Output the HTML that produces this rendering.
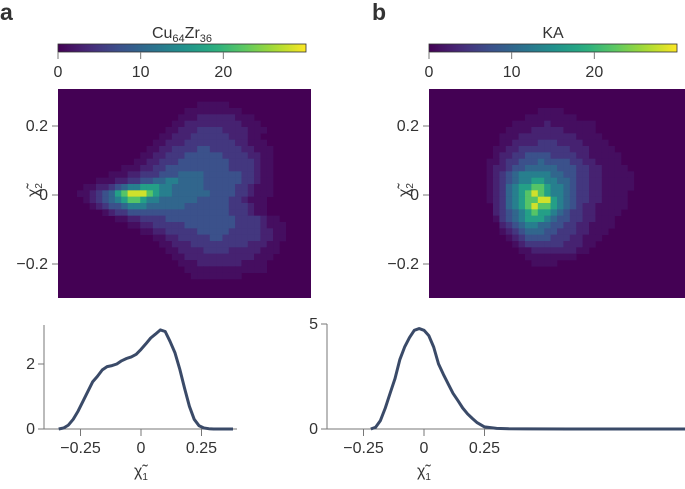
<!DOCTYPE html>
<html><head><meta charset="utf-8"><style>
body{margin:0;background:#fff;width:685px;height:484px;overflow:hidden}
svg text{font-family:"Liberation Sans",sans-serif;fill:#333}
</style></head><body>
<svg id="fig" width="685" height="484"></svg>
<script>
// ---------- data ----------
const cbTicks=[0,10,20];
const hmYTicks=[0.2,0,-0.2];
const lineXTicks=[-0.25,0,0.25];
const aYTicks=[0,2];
const bYTicks=[0,5];
// heatmap level -> count lookup
const levelCounts=[0,1.2,3,5,7.5,10,13,17,22,28];
const heatA=[
"","","0000000000000000000000111110","00000000000000000000111111111",
"0000000000000000000111222222111","000000000000000000112222222221110",
"000000000000000001122233332222111","000000000000000011222333333222110",
"000000000000000112223333333322111","0000000000000011223333443333322111",
"00000000000001122333444444333322110","000000000000112233344444444333321100",
"00000000001112233444444444433332110","000000001112233344455554444443321100",
"00000011122334455665555444444332110","0000112234566777665555544444332111",
"0001123457899987665555554444332111","0000123456788766555555444443321110",
"0000012344566655555544444443332110","0000000123344444444444444443332110",
"00000000011223333444444444443333211","00000000000112233333444444443333211100",
"0000000000000112233333444443333322110","0000000000000001122333334433333322110",
"00000000000000001122233333333322211","000000000000000001122223333222221110",
"0000000000000000001122222222222111","00000000000000000001112222222111100",
"000000000000000000001111111111111","00000000000000000000011111111","","",""];
const heatB=[
"","","","000000000000000001111","0000000000000001111111100","00000000000001111121111111",
"000000000000111122222111110","0000000000011122222222211110","000000000001122223332222111100",
"00000000001122333333332221111","000000000012233444433332211111","0000000001123344454444332211110",
"00000000012234455555444332211110","00000000012345666665544332211111","00000000012345667766554332211111",
"00000000012356778876654332211111","0000000001235678987665433221111","0000000001235678899765433221111",
"00000000002356789887654322111110","000000000023456787765433221111","0000000000134567776544332211100",
"00000000000234566554433221111","0000000000012345554433322111","000000000000123444433322111",
"0000000000000123333332221100","00000000000000112222222110","00000000000000011111111","00000000000000001111","","","","",""];
const curveAx=[-0.34,-0.32,-0.30,-0.28,-0.26,-0.24,-0.22,-0.20,-0.18,-0.16,-0.14,-0.12,-0.10,-0.08,-0.06,-0.04,-0.02,0,0.02,0.04,0.06,0.08,0.10,0.12,0.14,0.16,0.18,0.20,0.22,0.24,0.26,0.28,0.30,0.38];
const curveAy=[0,0.03,0.12,0.3,0.55,0.85,1.15,1.45,1.62,1.82,1.92,1.95,2.0,2.1,2.17,2.22,2.3,2.45,2.62,2.8,2.92,3.05,3.0,2.7,2.35,1.85,1.25,0.7,0.3,0.1,0.03,0.01,0,0];
const curveBx=[-0.22,-0.20,-0.18,-0.16,-0.14,-0.12,-0.10,-0.08,-0.06,-0.04,-0.02,0,0.02,0.04,0.06,0.08,0.10,0.12,0.14,0.16,0.18,0.20,0.22,0.25,0.30,0.35,0.42,0.6,1.08];
const curveBy=[0,0.08,0.4,1.0,1.7,2.4,3.3,3.9,4.35,4.7,4.78,4.7,4.45,3.9,3.1,2.6,2.15,1.7,1.35,1.0,0.72,0.5,0.3,0.1,0.03,0.01,0.005,0,0];

// ---------- helpers ----------
const NS="http://www.w3.org/2000/svg";const svg=document.getElementById('fig');
function el(t,a,p){const e=document.createElementNS(NS,t);for(const k in a)e.setAttribute(k,a[k]);(p||svg).appendChild(e);return e;}
const VS=[[0,[68,1,84]],[.13,[71,44,122]],[.25,[59,81,139]],[.38,[44,113,142]],[.5,[33,144,141]],[.63,[39,173,129]],[.75,[92,200,99]],[.88,[170,220,50]],[1,[253,231,37]]];
function vir(t){t=Math.max(0,Math.min(1,t));for(let i=1;i<VS.length;i++){if(t<=VS[i][0]){const a=VS[i-1],b=VS[i],f=(t-a[0])/(b[0]-a[0]);return 'rgb('+a[1].map((v,k)=>Math.round(v+(b[1][k]-v)*f)).join(',')+')';}}}
const VMAX=30;
const FS=15;

function panel(o){
  const g=el('g',{});
  
  
  const lab=el('text',{x:o.labX,y:20,'font-size':23,'font-weight':'bold',fill:'#111'},g);lab.textContent=o.id;
  
  const cbx=v=>o.cbx0+v/VMAX*(o.cbx1-o.cbx0);
  const defs=el('defs',{},g);const lg=el('linearGradient',{id:'grad'+o.id},defs);
  for(let i=0;i<=20;i++)el('stop',{offset:(i*5)+'%','stop-color':vir(i/20)},lg);
  const cb=el('rect',{x:o.cbx0,y:44,width:o.cbx1-o.cbx0,height:8,fill:'url(#grad'+o.id+')',stroke:'#333','stroke-width':0.8},g);
  
  const tt=el('text',{x:(o.cbx0+o.cbx1)/2,y:38,'font-size':16,'text-anchor':'middle'},g);tt.innerHTML=o.title;
  
  cbTicks.forEach(v=>{el('line',{x1:cbx(v),x2:cbx(v),y1:52,y2:59,stroke:'#777'},g);
    const t=el('text',{x:cbx(v),y:77,'font-size':FS+1,'text-anchor':'middle',fill:'#555'},g);t.textContent=v;
    });
  const hx0=o.hx0,hx1=o.hx1,hy0=89,hy1=298;
  const hm=el('g',{},g);
  el('rect',{x:hx0,y:hy0,width:hx1-hx0,height:hy1-hy0,fill:vir(0)},hm);
  const nc=40,nr=33,cw=(hx1-hx0)/nc,ch=(hy1-hy0)/nr;
  o.heat.forEach((row,r)=>{for(let c=0;c<row.length;c++){const v=levelCounts[+row[c]];if(v>0){
    const cell=el('rect',{x:hx0+c*cw,y:hy0+r*ch,width:cw+0.3,height:ch+0.3,fill:vir(v/VMAX)},hm);
    }}});
  const hy=v=>195-v/0.1*34.5;
  hmYTicks.forEach(v=>{el('line',{x1:hx0-6,x2:hx0,y1:hy(v),y2:hy(v),stroke:'#777'},g);
    const t=el('text',{x:hx0-10,y:hy(v)+5,'font-size':FS+1,'text-anchor':'end',fill:'#555'},g);t.textContent=v===0?'0':(v<0?'−'+(-v).toFixed(1):v.toFixed(1));
    });
  const yl=el('text',{x:0,y:0,'font-size':16,'text-anchor':'middle',transform:'translate('+(o.hx0-20)+',190) rotate(-90)'},g);
  yl.innerHTML='χ̃<tspan font-size="10" dy="4">2</tspan>';
  
  const lx=v=>o.lx0+v/0.25*60.5, ly=v=>429-v*o.lyS;
  el('line',{x1:o.ax0,x2:o.ax1,y1:429,y2:429,stroke:'#777'},g);
  el('line',{x1:o.ax0,x2:o.ax0,y1:o.ayTop,y2:429,stroke:'#777'},g);
  lineXTicks.forEach(v=>{el('line',{x1:lx(v),x2:lx(v),y1:429,y2:436,stroke:'#777'},g);
    const t=el('text',{x:lx(v),y:453,'font-size':FS+1,'text-anchor':'middle',fill:'#555'},g);t.textContent=v===0?'0':(v<0?'−'+(-v):v);
    });
  o.yt.forEach(v=>{el('line',{x1:o.ax0-6,x2:o.ax0,y1:ly(v),y2:ly(v),stroke:'#777'},g);
    const t=el('text',{x:o.ax0-9,y:ly(v)+5,'font-size':FS+1,'text-anchor':'end',fill:'#555'},g);t.textContent=v;
    });
  const d=o.cx.map((x,i)=>(i?'L':'M')+lx(x).toFixed(1)+','+ly(o.cy[i]).toFixed(1)).join('');
  const p=el('path',{d:d,fill:'none',stroke:'#3a4a68','stroke-width':3,'stroke-linejoin':'round'},g);
  
  const xl=el('text',{x:o.lx0,y:476,'font-size':16,'text-anchor':'middle'},g);
  xl.innerHTML='χ̃<tspan font-size="10" dy="4">1</tspan>';
  
}
panel({id:'a',labX:0,title:'Cu<tspan font-size="11" dy="4">64</tspan><tspan dy="-4">Zr</tspan><tspan font-size="11" dy="4">36</tspan>',
  cbx0:58,cbx1:306,hx0:58,hx1:311,heat:heatA,lx0:141,lyS:32.5,ax0:44,ax1:237,ayTop:325,yt:aYTicks,cx:curveAx,cy:curveAy});
panel({id:'b',labX:372,title:'KA',cbx0:429,cbx1:677,hx0:429,hx1:685,heat:heatB,lx0:424,lyS:21,ax0:327,ax1:685,ayTop:324,yt:bYTicks,cx:curveBx,cy:curveBy});
</script>
</body></html>
